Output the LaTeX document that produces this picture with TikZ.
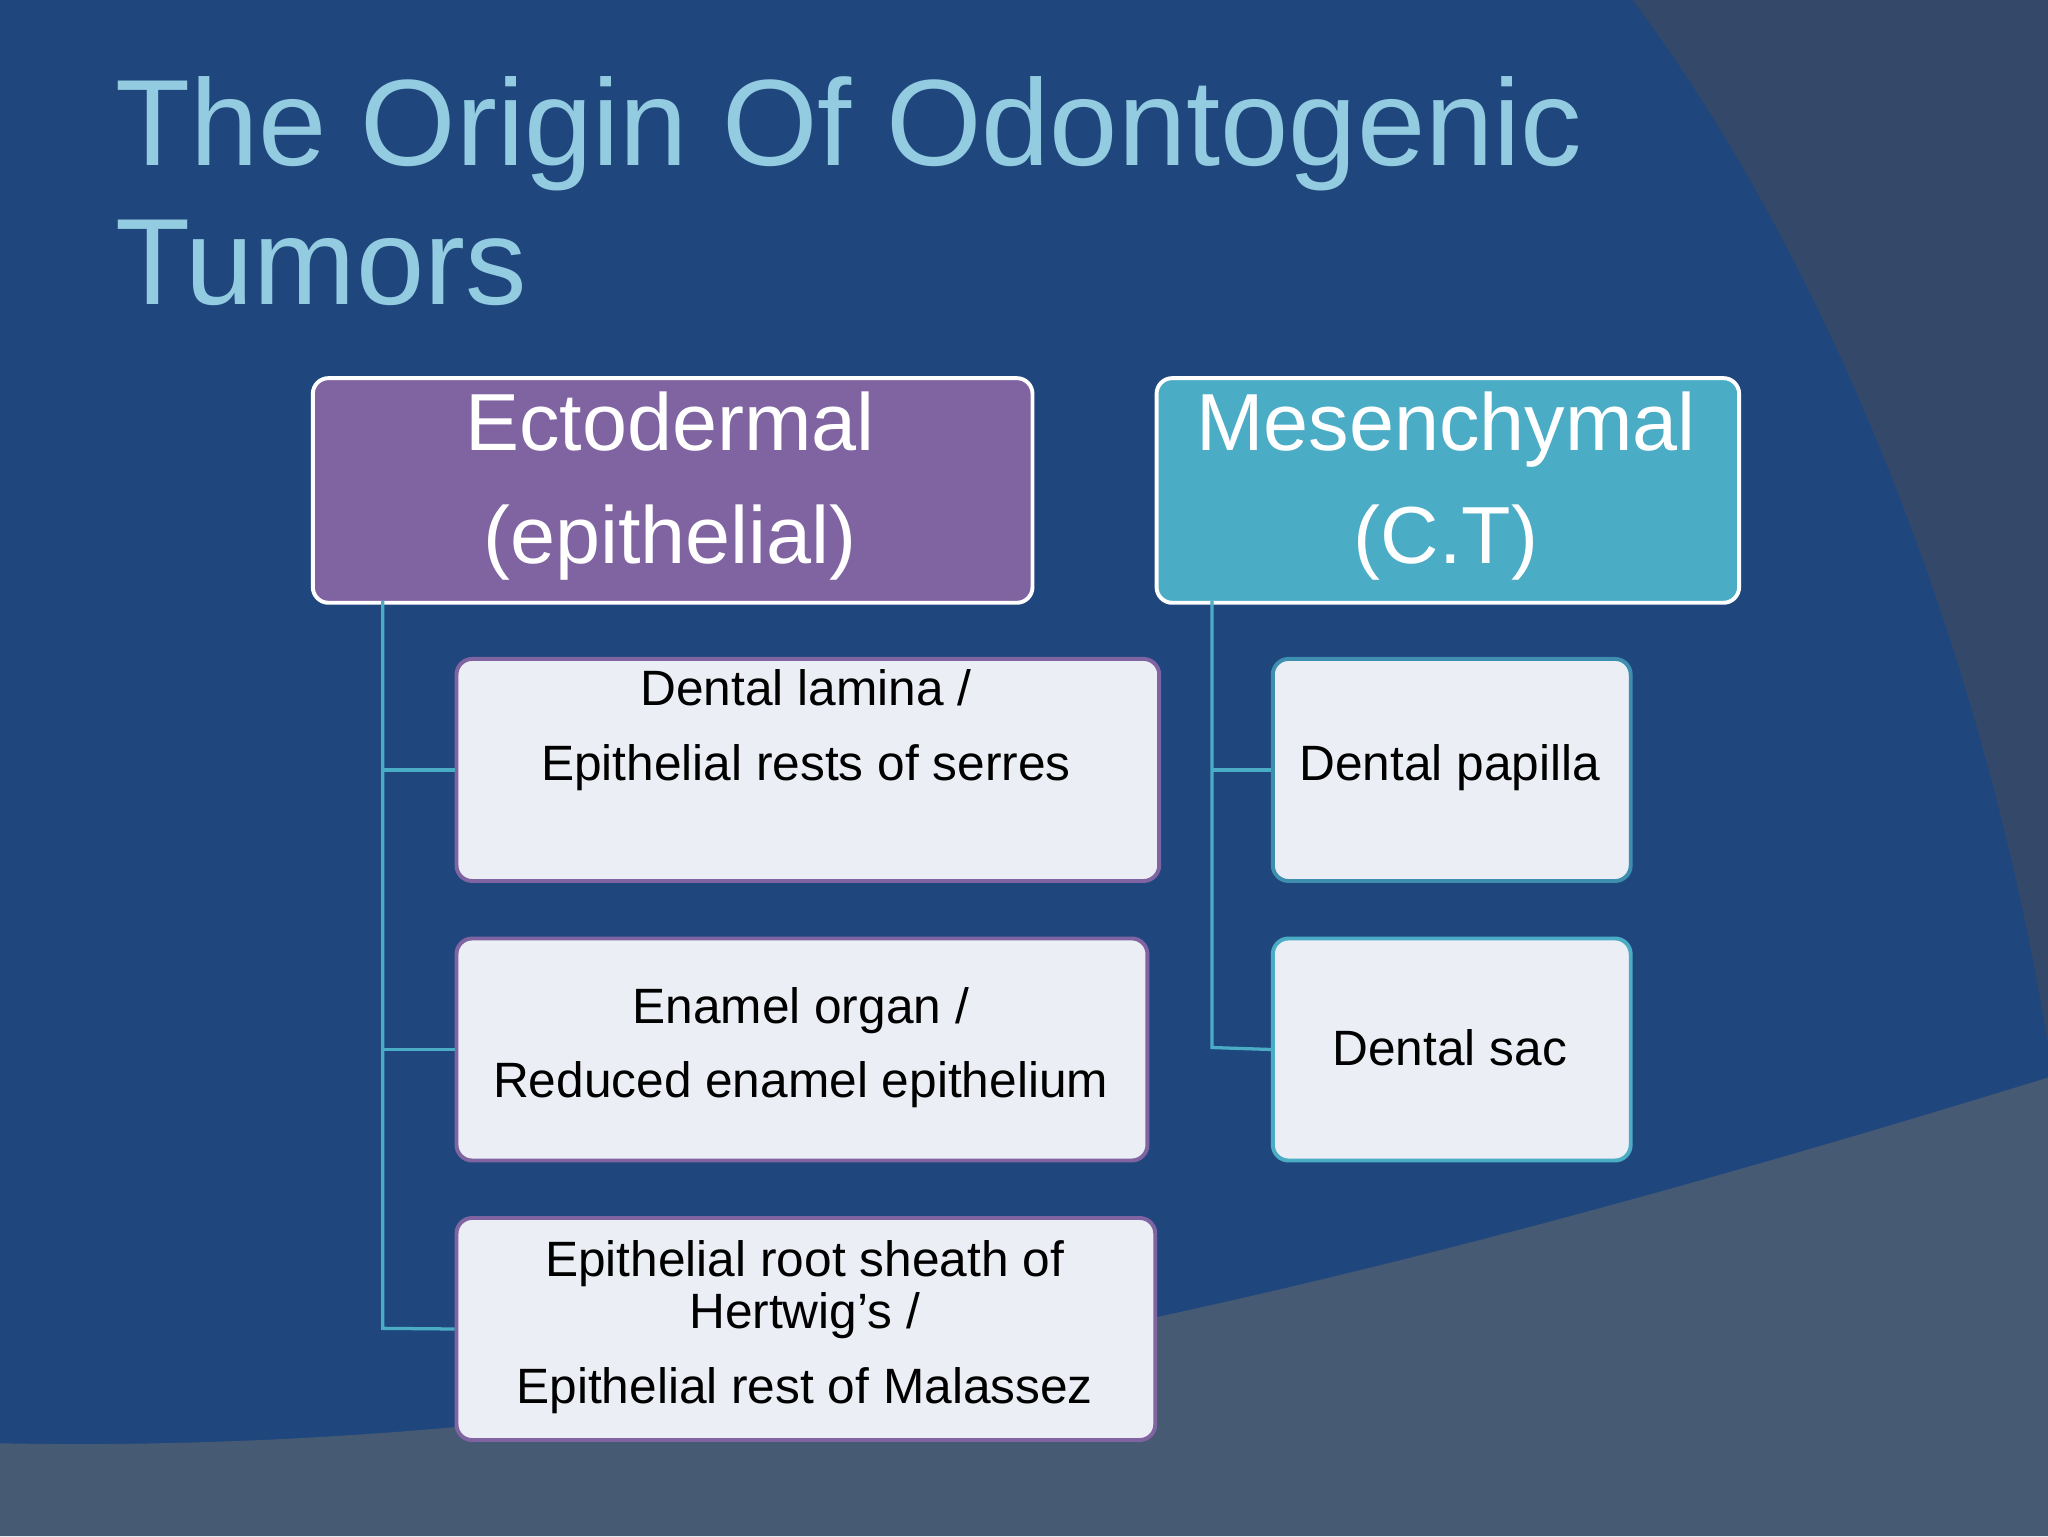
\documentclass[tikz,border=0pt]{standalone}
\usepackage{fontspec}
\setmainfont{Liberation Sans}
\definecolor{bg}{HTML}{1F477D}
\definecolor{gr1}{HTML}{34486A}
\definecolor{gr2}{HTML}{465A73}
\definecolor{ttl}{HTML}{93CBE0}
\definecolor{purp}{HTML}{8064A2}
\definecolor{teal}{HTML}{4BACC6}
\definecolor{lite}{HTML}{ECEEF5}
\begin{document}
\begin{tikzpicture}[x=1pt,y=-1pt,
  hdr/.style={draw=white,line width=3pt,rounded corners=12pt,anchor=north west},
  kid/.style={fill=lite,line width=3pt,rounded corners=12pt,anchor=north west},
  kidtxt/.style={font=\fontsize{38}{57}\selectfont,align=center,text=black},
  conn/.style={draw=teal,line width=2.5pt}]
\fill[bg] (0,0) rectangle (1568,1176);
\useasboundingbox (0,0) rectangle (1568,1176);
\fill[gr1] (1250,0) .. controls (1400,200) and (1520,500) .. (1568,800) -- (1568,0) -- cycle;
\fill[gr2] (0,1176) -- (0,1105) .. controls (500,1115) and (1000,1000) .. (1568,825) -- (1568,1176) -- cycle;
\node[anchor=base west,text=ttl,font=\fontsize{94}{106}\selectfont,inner sep=0] (t1) at (88,127) {The Origin Of Odontogenic};
\node[anchor=base west,text=ttl,font=\fontsize{94}{106}\selectfont,inner sep=0] (t2) at (88,233) {Tumors};
\node[hdr,fill=purp,minimum width=551pt,minimum height=172pt] (ecto) at (238,288) {};
\node[hdr,fill=teal,minimum width=446pt,minimum height=172pt] (meso) at (884,288) {};
\node[text=white,font=\fontsize{62}{87}\selectfont,align=center] (et) at (513,372) {Ectodermal\\(epithelial)};
\node[text=white,font=\fontsize{62}{87}\selectfont,align=center] (mt) at (1107,372) {Mesenchymal\\(C.T)};
\node[kid,draw=purp,minimum width=538pt,minimum height=170pt] (k1) at (348,503) {};
\node[kid,draw=purp,minimum width=529pt,minimum height=170pt] (k2) at (348,717) {};
\node[kid,draw=purp,minimum width=535pt,minimum height=170pt] (k3) at (348,931) {};
\node[kid,draw=teal!70!bg,minimum width=274pt,minimum height=170pt] (m1) at (973,503) {};
\node[kid,draw=teal,minimum width=274pt,minimum height=170pt] (m2) at (973,717) {};
\node[kidtxt] (k1t) at (617,559) {Dental lamina /\\Epithelial rests of serres};
\node[kidtxt] (k2t) at (613,802) {Enamel organ /\\Reduced enamel epithelium};
\node[kidtxt,align=center] (k3t) at (616,1016) {Epithelial root sheath of\\[-17pt]Hertwig’s /\\Epithelial rest of Malassez};
\node[kidtxt] (m1t) at (1110,588) {Dental papilla};
\node[kidtxt] (m2t) at (1110,802) {Dental sac};
\coordinate (lt) at (293,460);
\coordinate (lb) at (293,1017);
\coordinate (rt) at (928,460);
\coordinate (rb) at (928,802);
\draw[conn] (lt) -- (lb) -- (k3.west);
\draw[conn] (lt |- k1.west) -- (k1.west);
\draw[conn] (lt |- k2.west) -- (k2.west);
\draw[conn] (rt) -- (rb) -- (m2.west);
\draw[conn] (rt |- m1.west) -- (m1.west);
\end{tikzpicture}
\end{document}
